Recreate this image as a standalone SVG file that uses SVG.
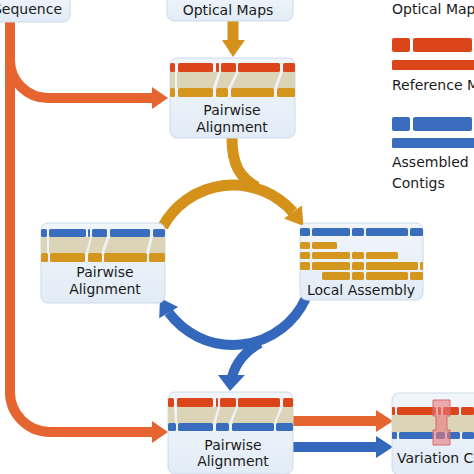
<svg xmlns="http://www.w3.org/2000/svg" width="474" height="474" viewBox="0 0 474 474">
<defs>
<linearGradient id="boxg" x1="0" y1="0" x2="0" y2="1">
<stop offset="0" stop-color="#F1F6FB"/>
<stop offset="1" stop-color="#E2ECF6"/>
</linearGradient>
</defs>
<style>
.box{fill:url(#boxg);stroke:#CCDAE8;stroke-width:1}
.t{font-family:"DejaVu Sans",sans-serif;font-size:14px;fill:#1b1b1b}
.c{text-anchor:middle}
.r{fill:#DC4419}
.g{fill:#D4961C}
.b{fill:#3B6DBE}
.bg{fill:#DCD4B6}
.sl{fill:#EEF3F9}
.ol{fill:none;stroke:#E5642F;stroke-width:10}
.oh{fill:#E5642F}
.gl{fill:none;stroke:#D4921A;stroke-width:11}
.gh{fill:#D4921A}
.bl{fill:none;stroke:#3468BC;stroke-width:10}
.bh{fill:#3468BC}
</style>

<g id="connectors">
<path class="ol" d="M10,22 V392 A40,40 0 0 0 50,432 H154"/>
<path class="ol" d="M10,60 A38,38 0 0 0 48,98 H154"/>
<polygon class="oh" points="152,87 168,98 152,109"/>
<polygon class="oh" points="152,421 168,432 152,443"/>
<path class="gl" d="M233,21 V42"/>
<polygon class="gh" points="222,40 245,40 233,57"/>
<path class="gl" d="M232,138 C232,165 240,178 257,187"/>
<path class="gl" d="M162.7,226.8 A80,80 0 0 1 292.9,212"/>
<polygon class="gh" points="301.8,205.6 303.5,226 284,218.4"/>
<path class="bl" d="M305.5,298.8 A80,80 0 0 1 168.7,312.6"/>
<polygon class="bh" points="178.2,307 160,298 159.2,318.2"/>
<path class="bl" d="M260,343 C246,351 236,362 232,377"/>
<polygon class="bh" points="218,375 245,375 230,391"/>
<path class="ol" d="M293,421 H378"/>
<polygon class="oh" points="376,410 393,421 376,432"/>
<path class="bl" d="M293,447 H378"/>
<polygon class="bh" points="376,436 393,447 376,458"/>
</g>

<g id="sequence">
<rect class="box" x="-10" y="-10" width="80" height="32" rx="7"/>
<text class="t" x="62" y="14" text-anchor="end">Sequence</text>
</g>

<g id="optical-maps">
<rect class="box" x="167" y="-10" width="126" height="31" rx="7"/>
<text class="t c" x="228" y="15">Optical Maps</text>
</g>

<g id="pairwise-top">
<rect class="box" x="170" y="58" width="125" height="80" rx="7"/>
<rect class="bg" x="170" y="72" width="125" height="16"/>
<polygon class="sl" points="175,72 177,72 177,88 175,88"/>
<polygon class="sl" points="218,72 221,72 216,88 213,88"/>
<polygon class="sl" points="236,72 239,72 231,88 228,88"/>
<polygon class="sl" points="280,72 283,72 277,88 274,88"/>
<rect class="r" x="170" y="63" width="5" height="9" rx="1.5"/>
<rect class="r" x="178" y="63" width="35" height="9" rx="1.5"/>
<rect class="r" x="216" y="63" width="3" height="9" rx="1"/>
<rect class="r" x="221" y="63" width="15" height="9" rx="1.5"/>
<rect class="r" x="238" y="63" width="42" height="9" rx="1.5"/>
<rect class="r" x="283" y="63" width="12" height="9" rx="1.5"/>
<rect class="g" x="170" y="88" width="5" height="9" rx="1.5"/>
<rect class="g" x="178" y="88" width="35" height="9" rx="1.5"/>
<rect class="g" x="216" y="88" width="12" height="9" rx="1.5"/>
<rect class="g" x="231" y="88" width="43" height="9" rx="1.5"/>
<rect class="g" x="277" y="88" width="18" height="9" rx="1.5"/>
<text class="t c" x="232" y="115">Pairwise</text>
<text class="t c" x="232" y="132">Alignment</text>
</g>

<g id="pairwise-left">
<rect class="box" x="41" y="223" width="124" height="80" rx="7"/>
<rect class="bg" x="41" y="237" width="124" height="16"/>
<polygon class="sl" points="47,237 49,237 49,253 47,253"/>
<polygon class="sl" points="90,237 92,237 88,253 86,253"/>
<polygon class="sl" points="107,237 110,237 104,253 101,253"/>
<polygon class="sl" points="150,237 153,237 149,253 146,253"/>
<rect class="b" x="41" y="229" width="6" height="8" rx="1.5"/>
<rect class="b" x="49" y="229" width="37" height="8" rx="1.5"/>
<rect class="b" x="88" y="229" width="2" height="8" rx="1"/>
<rect class="b" x="92" y="229" width="15" height="8" rx="1.5"/>
<rect class="b" x="110" y="229" width="40" height="8" rx="1.5"/>
<rect class="b" x="153" y="229" width="12" height="8" rx="1.5"/>
<rect class="g" x="41" y="253" width="7" height="9" rx="1.5"/>
<rect class="g" x="50" y="253" width="35" height="9" rx="1.5"/>
<rect class="g" x="88" y="253" width="14" height="9" rx="1.5"/>
<rect class="g" x="104" y="253" width="43" height="9" rx="1.5"/>
<rect class="g" x="149" y="253" width="16" height="9" rx="1.5"/>
<text class="t c" x="105" y="277">Pairwise</text>
<text class="t c" x="105" y="294">Alignment</text>
</g>

<g id="local-assembly">
<rect class="box" x="300" y="223" width="123" height="77" rx="7"/>
<rect class="b" x="300" y="228" width="10" height="8" rx="1.5"/>
<rect class="b" x="312" y="228" width="38" height="8" rx="1.5"/>
<rect class="b" x="352" y="228" width="12" height="8" rx="1.5"/>
<rect class="b" x="366" y="228" width="42" height="8" rx="1.5"/>
<rect class="b" x="410" y="228" width="13" height="8" rx="1.5"/>
<rect class="g" x="300" y="242" width="10" height="7" rx="1.5"/>
<rect class="g" x="312" y="242" width="25" height="7" rx="1.5"/>
<rect class="g" x="300" y="252" width="10" height="7" rx="1.5"/>
<rect class="g" x="312" y="252" width="38" height="7" rx="1.5"/>
<rect class="g" x="352" y="252" width="12" height="7" rx="1.5"/>
<rect class="g" x="366" y="252" width="32" height="7" rx="1.5"/>
<rect class="g" x="300" y="262" width="10" height="8" rx="1.5"/>
<rect class="g" x="312" y="262" width="38" height="8" rx="1.5"/>
<rect class="g" x="352" y="262" width="12" height="8" rx="1.5"/>
<rect class="g" x="366" y="262" width="52" height="8" rx="1.5"/>
<rect class="g" x="420" y="262" width="3" height="8" rx="1"/>
<rect class="g" x="322" y="272" width="28" height="8" rx="1.5"/>
<rect class="g" x="352" y="272" width="12" height="8" rx="1.5"/>
<rect class="g" x="366" y="272" width="42" height="8" rx="1.5"/>
<rect class="g" x="410" y="272" width="13" height="8" rx="1.5"/>
<text class="t c" x="361" y="295">Local Assembly</text>
</g>

<g id="pairwise-bottom">
<rect class="box" x="168" y="392" width="125" height="82" rx="7"/>
<rect class="bg" x="168" y="407" width="125" height="16"/>
<polygon class="sl" points="174,407 177,407 177,423 175,423"/>
<polygon class="sl" points="218,407 220,407 216,423 213,423"/>
<polygon class="sl" points="236,407 238,407 232,423 229,423"/>
<polygon class="sl" points="280,407 283,407 276,423 274,423"/>
<rect class="r" x="168" y="398" width="6" height="9" rx="1.5"/>
<rect class="r" x="177" y="398" width="36" height="9" rx="1.5"/>
<rect class="r" x="216" y="398" width="2" height="9" rx="1"/>
<rect class="r" x="220" y="398" width="16" height="9" rx="1.5"/>
<rect class="r" x="238" y="398" width="42" height="9" rx="1.5"/>
<rect class="r" x="283" y="398" width="10" height="9" rx="1.5"/>
<rect class="b" x="168" y="423" width="8" height="8" rx="1.5"/>
<rect class="b" x="178" y="423" width="35" height="8" rx="1.5"/>
<rect class="b" x="216" y="423" width="13" height="8" rx="1.5"/>
<rect class="b" x="232" y="423" width="42" height="8" rx="1.5"/>
<rect class="b" x="276" y="423" width="17" height="8" rx="1.5"/>
<text class="t c" x="233" y="450">Pairwise</text>
<text class="t c" x="233" y="466">Alignment</text>
</g>

<g id="variation-calls">
<rect class="box" x="392" y="393" width="100" height="82" rx="7"/>
<rect class="bg" x="392" y="415" width="82" height="17"/>
<rect class="r" x="392" y="407" width="3" height="8" rx="1"/>
<rect class="r" x="397" y="407" width="39" height="8" rx="1.5"/>
<rect class="r" x="438" y="407" width="3" height="8" rx="1"/>
<rect class="r" x="443" y="407" width="16" height="8" rx="1.5"/>
<rect class="r" x="461" y="407" width="13" height="8" rx="1.5"/>
<rect class="b" x="392" y="432" width="5" height="7" rx="1"/>
<rect class="b" x="399" y="432" width="35" height="7" rx="1.5"/>
<rect class="b" x="436" y="432" width="9" height="7" rx="1.5"/>
<rect class="b" x="447" y="432" width="13" height="7" rx="1.5"/>
<rect class="b" x="462" y="432" width="12" height="7" rx="1.5"/>
<path d="M433,400 H450 V416 H447 V430 H450 V445 H433 V430 H436 V416 H433 Z" fill="#E8787A" fill-opacity="0.6" stroke="#D9686C" stroke-width="1"/>
<text class="t" x="397" y="463">Variation Calls</text>
</g>

<g id="legend">
<text class="t" x="392" y="14">Optical Maps</text>
<rect class="r" x="392" y="38" width="18" height="14" rx="2"/>
<rect class="r" x="413" y="38" width="59" height="14" rx="2"/>
<rect x="474" y="38" width="10" height="14" fill="#EE9A80"/>
<rect class="r" x="392" y="60" width="90" height="10" rx="1.5"/>
<text class="t" x="392" y="90">Reference Maps</text>
<rect class="b" x="392" y="117" width="18" height="14" rx="2"/>
<rect class="b" x="413" y="117" width="59" height="14" rx="2"/>
<rect class="b" x="392" y="138" width="90" height="10" rx="1.5"/>
<text class="t" x="392" y="167">Assembled</text>
<text class="t" x="392" y="188">Contigs</text>
</g>
</svg>
